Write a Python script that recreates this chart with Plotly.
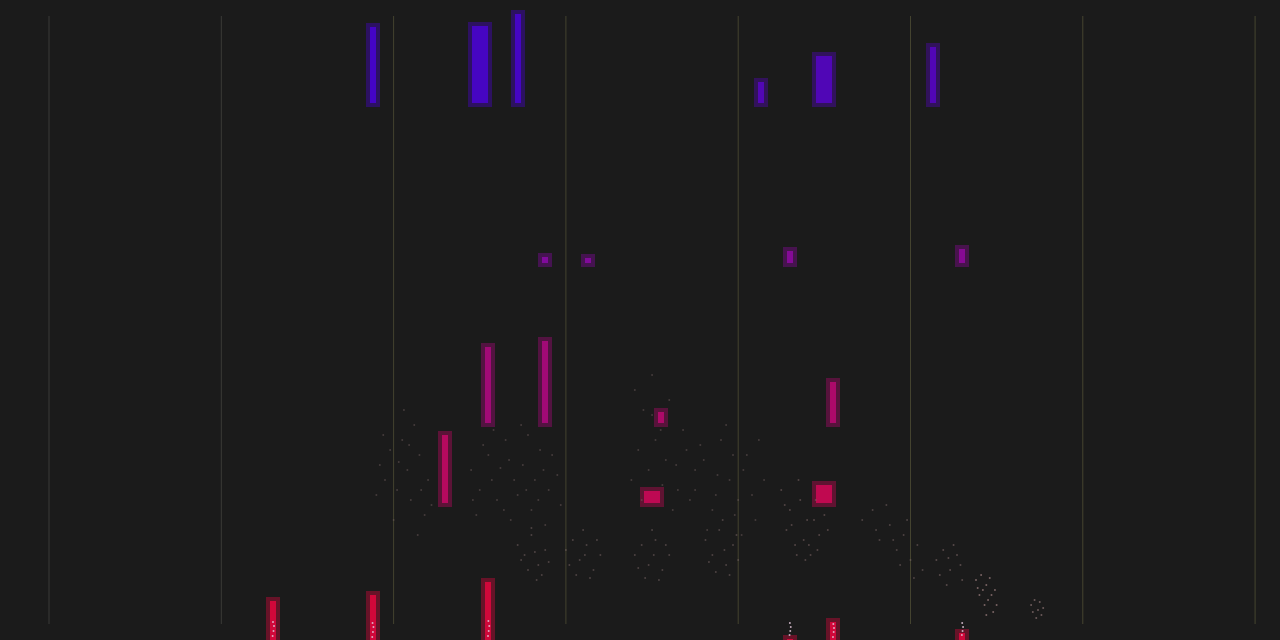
import plotly.graph_objects as go

# ---------------- data ----------------
# vertical grid positions (x categories 0..7)
grid_x = [0, 1, 2, 3, 4, 5, 6, 7]
grid_colors = ["#3b3b38", "#3b3b38", "#44432f", "#44432f", "#44432f", "#44432f", "#46452f", "#46452f"]

# floating bars, one list group per row
blue_base = 535
blue_x = [1.88, 2.50, 2.72, 4.13, 4.50, 5.13]
blue_top = [615, 616, 628, 560, 586, 595]
blue_wide = [0, 1, 0, 0, 1, 0]

purple_base = 375
purple_x = [2.88, 3.13, 4.30, 5.30]
purple_top = [385, 384, 391, 393]
purple_wide = [0, 0, 0, 0]

magenta_base = 215
magenta_x = [2.55, 2.88, 3.55, 4.55]
magenta_top = [295, 301, 230, 260]
magenta_wide = [0, 0, 0, 0]

pink_base = 135
pink_x = [2.30, 3.50, 4.50]
pink_top = [207, 151, 157]
pink_wide = [0, 1, 1]

red_base = -25
red_x = [1.30, 1.88, 2.55, 4.30, 4.55, 5.30]
red_top = [41, 47, 60, 3, 20, 9]
red_wide = [0, 0, 0, 0, 0, 0]

# faint particle clouds (x, y)
cloud_a_x = [1.92, 1.95, 1.98, 2.02, 2.05, 2.08, 2.10, 2.12, 2.15, 2.18, 2.20, 1.90, 2.00, 2.06, 2.14, 1.94, 2.03, 2.09, 2.16, 2.22]
cloud_a_y = [175, 160, 190, 150, 200, 170, 140, 215, 185, 125, 160, 145, 120, 230, 105, 205, 178, 195, 150, 135]
cloud_b_x = [2.45, 2.50, 2.55, 2.60, 2.65, 2.70, 2.75, 2.80, 2.85, 2.90, 2.95, 2.48, 2.58, 2.68, 2.78, 2.88, 2.52, 2.62, 2.72, 2.82, 2.92, 2.97, 2.57, 2.67, 2.77, 2.87, 2.46, 2.74, 2.84, 2.64]
cloud_b_y = [170, 150, 185, 140, 200, 160, 175, 130, 190, 150, 165, 125, 210, 120, 205, 115, 195, 172, 145, 160, 185, 135, 160, 180, 150, 170, 140, 215, 140, 130]
cloud_c_x = [3.40, 3.45, 3.50, 3.55, 3.60, 3.42, 3.48, 3.52, 3.58, 3.65, 3.70, 3.38, 3.62, 3.68, 3.75, 3.44, 3.56, 3.72, 3.50, 3.64]
cloud_c_y = [250, 230, 265, 210, 240, 190, 170, 200, 180, 150, 190, 160, 130, 210, 170, 140, 155, 140, 225, 175]
cloud_d_x = [3.75, 3.80, 3.85, 3.90, 3.95, 4.00, 4.05, 4.10, 4.15, 3.82, 3.88, 3.93, 3.98, 4.03, 4.08, 3.78, 4.12, 3.87, 3.97, 4.02]
cloud_d_y = [150, 180, 130, 200, 160, 140, 185, 120, 160, 110, 165, 215, 125, 170, 145, 195, 200, 145, 185, 105]
cloud_e_x = [4.25, 4.30, 4.35, 4.40, 4.45, 4.28, 4.33, 4.38, 4.42, 4.47, 4.50, 4.36, 4.31, 4.41, 4.46, 4.52, 4.27, 4.39, 4.44, 4.34]
cloud_e_y = [150, 130, 160, 120, 140, 110, 95, 100, 85, 105, 125, 140, 115, 95, 90, 110, 135, 80, 120, 85]
drop_1_x = [2.72, 2.76, 2.80, 2.84, 2.88, 2.78, 2.82, 2.86, 2.74, 2.90, 2.80, 2.83]
drop_1_y = [95, 85, 105, 75, 90, 70, 88, 65, 80, 78, 112, 60]
drop_2_x = [3.00, 3.04, 3.08, 3.12, 3.16, 3.20, 3.06, 3.10, 3.14, 3.02, 3.18, 3.11]
drop_2_y = [90, 100, 80, 95, 70, 85, 65, 110, 62, 75, 100, 85]
drop_3_x = [3.40, 3.44, 3.48, 3.52, 3.56, 3.60, 3.46, 3.50, 3.54, 3.42, 3.58, 3.51]
drop_3_y = [85, 95, 75, 100, 70, 85, 62, 110, 60, 72, 95, 85]
drop_4_x = [3.81, 3.85, 3.89, 3.93, 3.97, 4.00, 3.87, 3.91, 3.95, 3.83, 3.99, 3.92]
drop_4_y = [100, 85, 110, 75, 95, 80, 68, 120, 65, 78, 105, 90]
drop_5_x = [4.72, 4.78, 4.82, 4.88, 4.92, 4.96, 5.00, 5.04, 5.07, 4.86, 4.94, 4.98, 4.80, 5.02, 4.90]
drop_5_y = [120, 130, 100, 115, 90, 105, 80, 95, 70, 135, 75, 120, 110, 62, 100]
drop_6_x = [5.15, 5.19, 5.23, 5.27, 5.30, 5.21, 5.25, 5.17, 5.29, 5.22]
drop_6_y = [80, 90, 70, 85, 60, 55, 95, 65, 75, 82]
drop_7_x = [5.38, 5.41, 5.44, 5.47, 5.50, 5.42, 5.45, 5.48, 5.40, 5.46, 5.43, 5.49, 5.44, 5.39]
drop_7_y = [60, 65, 55, 45, 35, 50, 40, 28, 45, 62, 35, 50, 25, 52]
drop_8_x = [5.70, 5.72, 5.74, 5.76, 5.73, 5.71, 5.75, 5.77]
drop_8_y = [35, 40, 30, 25, 22, 28, 38, 32]

# bright sparks inside the red bars
spark_x = [1.298, 1.303, 1.306, 1.300, 1.876, 1.880, 1.883, 1.878, 2.548, 2.552, 2.555, 2.550,
           4.298, 4.302, 4.305, 4.300, 4.550, 4.554, 4.556, 4.552, 5.298, 5.302, 5.305, 5.300]
spark_y = [4, 9, 14, 18, 3, 8, 13, 17, 4, 9, 14, 19, 5, 9, 13, 17, 3, 8, 12, 16, 5, 9, 13, 17]

# ---------------- styling helpers ----------------
BG = "#1b1b1b"
X_RANGE = [-0.2844, 7.1445]
Y_RANGE = [0, 640]
NARROW, WIDE = 0.058, 0.116

stops = [(0.0, (48, 0, 232)), (0.2, (76, 6, 184)), (0.45, (124, 10, 160)),
         (0.65, (160, 10, 120)), (0.8, (184, 10, 92)), (1.0, (208, 8, 58))]


def lerp_color(s):
    s = max(0.0, min(1.0, s))
    for (a, ca), (b, cb) in zip(stops[:-1], stops[1:]):
        if a <= s <= b:
            f = (s - a) / (b - a)
            return tuple(int(round(ca[i] + (cb[i] - ca[i]) * f)) for i in range(3))
    return stops[-1][1]


def bar_colors(xs, base, tops):
    fills, lines = [], []
    for x, t in zip(xs, tops):
        mid = (base + t) / 2
        ty = 1 - mid / 640
        tx = (x - X_RANGE[0]) / (X_RANGE[1] - X_RANGE[0])
        c = lerp_color(ty + 0.15 * tx)
        fills.append("rgb(%d,%d,%d)" % c)
        d = tuple(int(c[i] * 0.42 + 27 * 0.58) for i in range(3))
        lines.append("rgb(%d,%d,%d)" % d)
    return fills, lines


fig = go.Figure()

# particle clouds (behind bars)
clouds = [
    (cloud_a_x, cloud_a_y, "rgba(120,100,100,0.45)"),
    (cloud_b_x, cloud_b_y, "rgba(120,100,100,0.45)"),
    (cloud_c_x, cloud_c_y, "rgba(120,100,100,0.45)"),
    (cloud_d_x, cloud_d_y, "rgba(120,100,100,0.45)"),
    (cloud_e_x, cloud_e_y, "rgba(135,110,110,0.5)"),
    (drop_1_x, drop_1_y, "rgba(125,105,105,0.5)"),
    (drop_2_x, drop_2_y, "rgba(125,105,105,0.5)"),
    (drop_3_x, drop_3_y, "rgba(125,105,105,0.5)"),
    (drop_4_x, drop_4_y, "rgba(125,105,105,0.5)"),
    (drop_5_x, drop_5_y, "rgba(125,105,105,0.5)"),
    (drop_6_x, drop_6_y, "rgba(135,112,112,0.55)"),
    (drop_7_x, drop_7_y, "rgba(160,130,130,0.7)"),
    (drop_8_x, drop_8_y, "rgba(150,125,125,0.65)"),
]
for cx, cy, col in clouds:
    fig.add_trace(go.Scatter(x=cx, y=cy, mode="markers",
                             marker=dict(size=2, color=col, line=dict(width=0)),
                             hoverinfo="skip", showlegend=False, cliponaxis=False))

rows = [
    (blue_x, blue_base, blue_top, blue_wide),
    (purple_x, purple_base, purple_top, purple_wide),
    (magenta_x, magenta_base, magenta_top, magenta_wide),
    (pink_x, pink_base, pink_top, pink_wide),
    (red_x, red_base, red_top, red_wide),
]
for xs, base, tops, wide in rows:
    fills, lines = bar_colors(xs, base, tops)
    fig.add_trace(go.Bar(
        x=xs, y=[t - base for t in tops], base=[base] * len(xs),
        width=[WIDE if w else NARROW for w in wide],
        marker=dict(color=fills, line=dict(color=lines, width=4)),
        hoverinfo="skip", showlegend=False,
    ))

fig.add_trace(go.Scatter(x=spark_x, y=spark_y, mode="markers",
                         marker=dict(size=2, color="rgba(225,195,215,0.85)", line=dict(width=0)),
                         hoverinfo="skip", showlegend=False, cliponaxis=False))

shapes = []
for gx, gc in zip(grid_x, grid_colors):
    shapes.append(dict(type="line", xref="x", yref="y", x0=gx, x1=gx, y0=16, y1=624,
                       line=dict(color=gc, width=1), layer="below"))

fig.update_layout(
    width=1280, height=640,
    margin=dict(l=0, r=0, t=0, b=0),
    paper_bgcolor=BG, plot_bgcolor=BG,
    barmode="overlay", bargap=0,
    shapes=shapes,
    xaxis=dict(range=X_RANGE, showgrid=False, zeroline=False, showticklabels=False,
               ticks="", showline=False, fixedrange=True),
    yaxis=dict(range=Y_RANGE, showgrid=False, zeroline=False, showticklabels=False,
               ticks="", showline=False, fixedrange=True),
    showlegend=False,
)

fig.write_html(
    "out.html",
    config={"displayModeBar": False},
    post_script="document.body.style.margin='0';document.body.style.background='%s';" % BG,
)
